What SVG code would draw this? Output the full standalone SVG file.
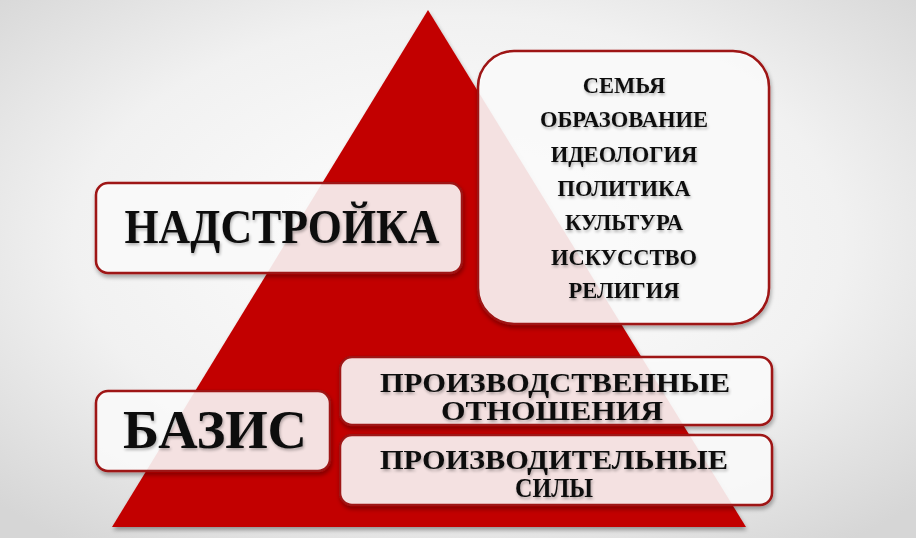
<svg xmlns="http://www.w3.org/2000/svg" width="916" height="538" viewBox="0 0 916 538">
<defs>
<radialGradient id="bg" cx="0.5" cy="0.45" r="0.7">
<stop offset="0" stop-color="#ffffff"/>
<stop offset="0.6" stop-color="#f1f1f1"/>
<stop offset="1" stop-color="#d6d6d6"/>
</radialGradient>
<filter id="sh" x="-10%" y="-10%" width="120%" height="130%">
<feGaussianBlur in="SourceAlpha" stdDeviation="2"/>
<feOffset dx="1" dy="3" result="b"/>
<feComponentTransfer><feFuncA type="linear" slope="0.35"/></feComponentTransfer>
<feMerge><feMergeNode/><feMergeNode in="SourceGraphic"/></feMerge>
</filter>
<filter id="tsh" x="-5%" y="-20%" width="110%" height="140%">
<feGaussianBlur in="SourceAlpha" stdDeviation="1.5"/>
<feOffset dx="1" dy="2"/>
<feComponentTransfer><feFuncA type="linear" slope="0.3"/></feComponentTransfer>
<feMerge><feMergeNode/><feMergeNode in="SourceGraphic"/></feMerge>
</filter>
</defs>
<style>
.box{fill:#ffffff;fill-opacity:0.86;stroke:#9e1212;stroke-width:2.5}
.t{font-family:"Liberation Serif","Times New Roman",serif;font-weight:bold;fill:#111111;text-anchor:middle}
.mid{font-size:28px}
.sm{font-size:22.5px}
</style>
<rect width="916" height="538" fill="url(#bg)"/>
<g id="pyramid">
<polygon points="428,10 112,527 746,527" fill="#c20000" filter="url(#sh)"/>
</g>
<g id="connectors"></g>
<g id="superstructure-list">
<rect class="box" x="478" y="51" width="291" height="273" rx="36" filter="url(#sh)"/>
<g class="t sm" filter="url(#tsh)">
<text x="624" y="93">СЕМЬЯ</text>
<text x="624" y="127">ОБРАЗОВАНИЕ</text>
<text x="624" y="162">ИДЕОЛОГИЯ</text>
<text x="624" y="196">ПОЛИТИКА</text>
<text x="624" y="230">КУЛЬТУРА</text>
<text x="624" y="265">ИСКУССТВО</text>
<text x="624" y="298">РЕЛИГИЯ</text>
</g>
</g>
<g id="superstructure">
<rect class="box" x="96" y="183" width="366" height="90" rx="12" filter="url(#sh)"/>
<text class="t" style="font-size:49px" x="282" y="243" textLength="315" lengthAdjust="spacingAndGlyphs" filter="url(#tsh)">НАДСТРОЙКА</text>
</g>
<g id="basis">
<rect class="box" x="96" y="391" width="234" height="80" rx="12" filter="url(#sh)"/>
<text class="t" style="font-size:55px" x="215" y="448" textLength="184" lengthAdjust="spacingAndGlyphs" filter="url(#tsh)">БАЗИС</text>
</g>
<g id="relations">
<rect class="box" x="340" y="357" width="432" height="68" rx="12" filter="url(#sh)"/>
<g class="t mid" filter="url(#tsh)">
<text x="555" y="392" textLength="350" lengthAdjust="spacingAndGlyphs">ПРОИЗВОДСТВЕННЫЕ</text>
<text x="552" y="420" textLength="222" lengthAdjust="spacingAndGlyphs">ОТНОШЕНИЯ</text>
</g>
</g>
<g id="forces">
<rect class="box" x="340" y="435" width="432" height="70" rx="12" filter="url(#sh)"/>
<g class="t mid" filter="url(#tsh)">
<text x="554" y="469" textLength="348" lengthAdjust="spacingAndGlyphs">ПРОИЗВОДИТЕЛЬНЫЕ</text>
<text x="554" y="497" textLength="78" lengthAdjust="spacingAndGlyphs">СИЛЫ</text>
</g>
</g>
</svg>
